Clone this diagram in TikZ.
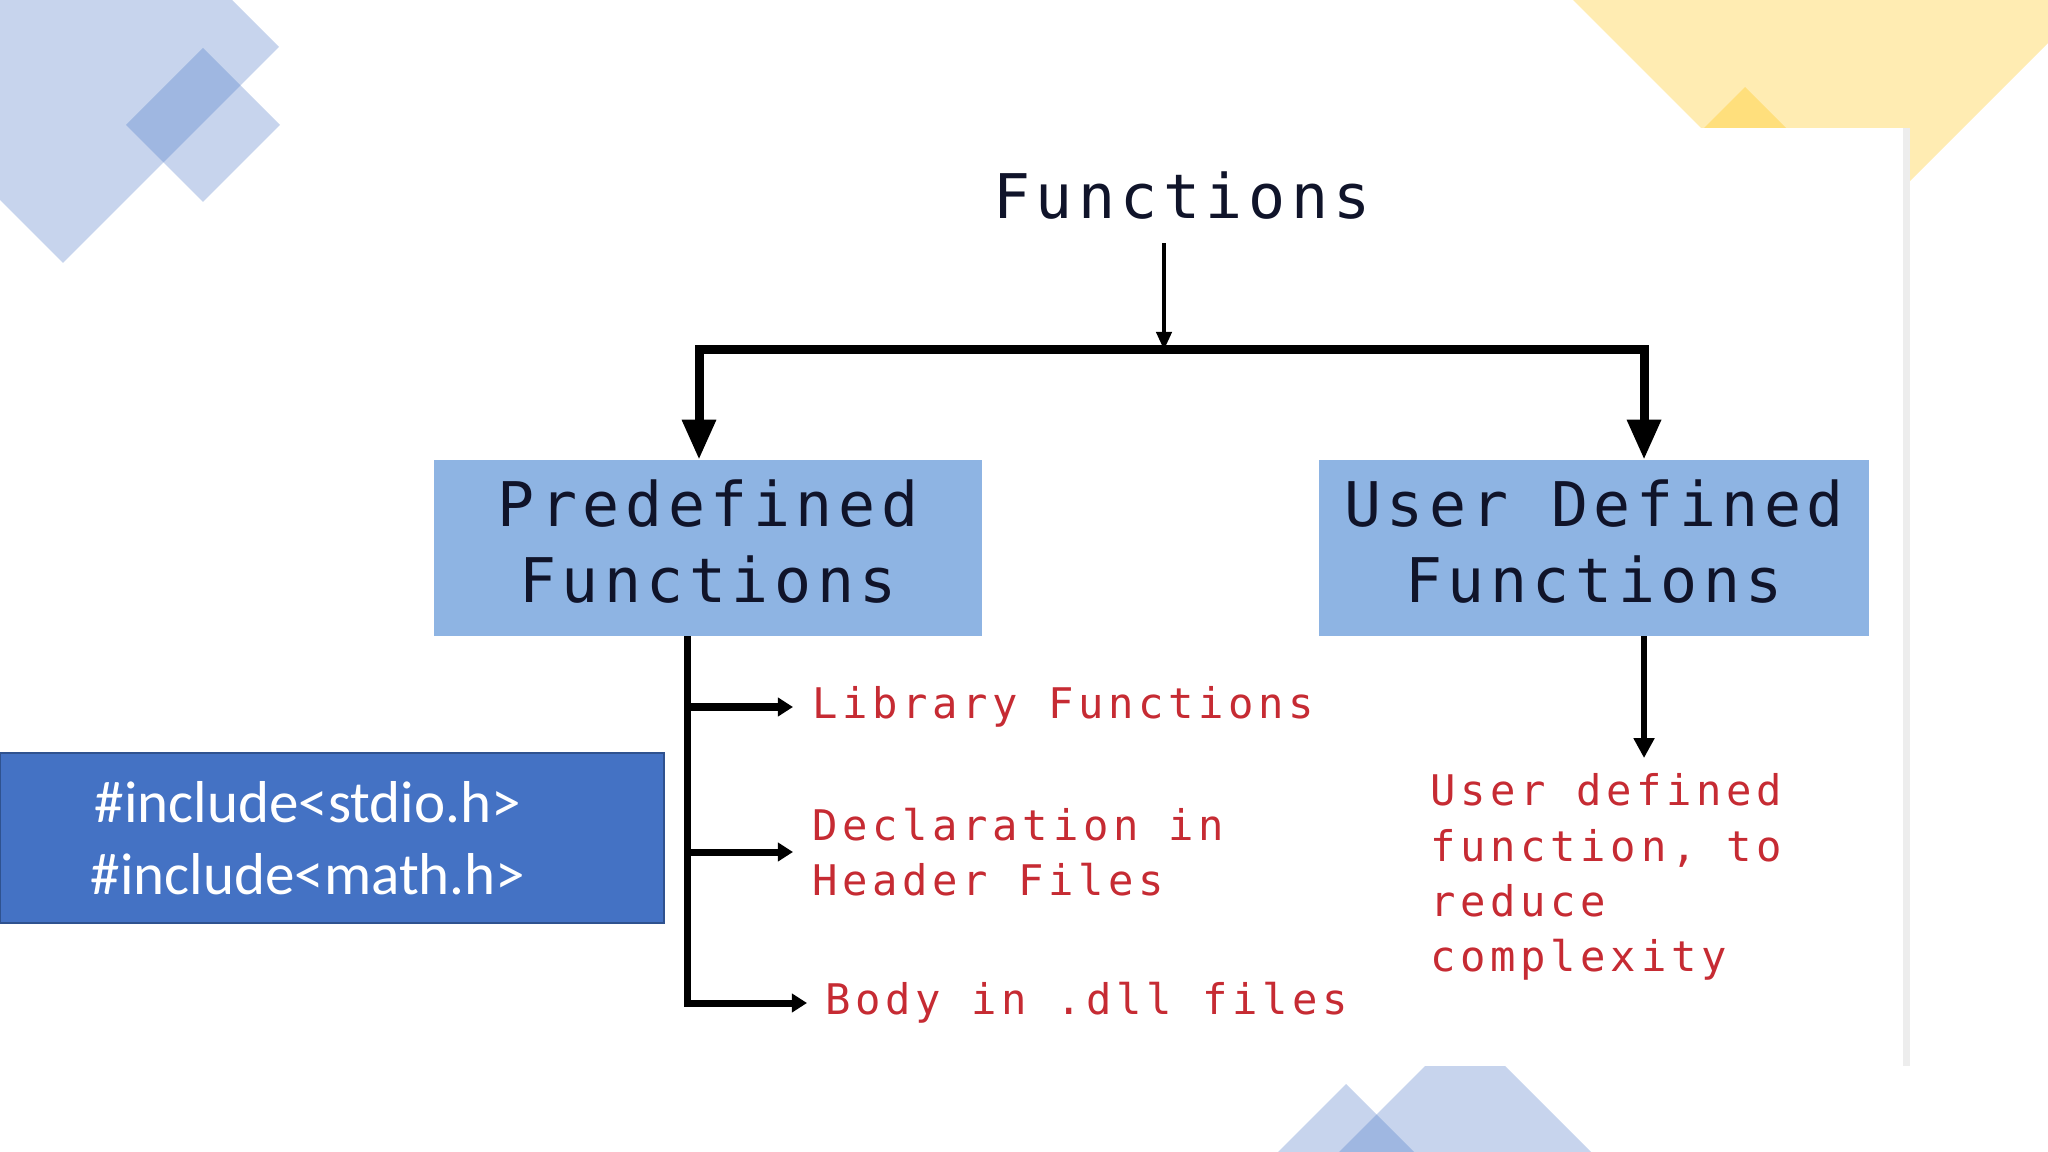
\documentclass[tikz,border=0pt]{standalone}
\usepackage{fontspec}
\usetikzlibrary{arrows.meta}
\newfontfamily\monofont[LetterSpace=9]{DejaVu Sans Mono}
\newfontfamily\notefont[LetterSpace=11]{DejaVu Sans Mono}
\newfontfamily\slidefont{Carlito}
\definecolor{slideblue}{HTML}{4472C4}
\definecolor{slideborder}{HTML}{2F528F}
\definecolor{slideyellow}{HTML}{FFC000}
\definecolor{boxblue}{HTML}{8EB4E3}
\definecolor{boxtext}{HTML}{10142A}
\definecolor{notered}{HTML}{C62B33}
\tikzset{
  catbox/.style={fill=boxblue, minimum height=1.75cm, align=center, inner sep=0pt,
    text depth=0.13cm, text=boxtext, font=\monofont\fontsize{17.5}{21.6}\selectfont},
  note/.style={anchor=west, align=left, inner sep=0pt, text=notered,
    font=\notefont\fontsize{12}{15.7}\selectfont},
  drop/.style={line width=0.09cm, -{Triangle[width=0.32cm,length=0.4cm]}},
  branch/.style={line width=0.07cm, -{Triangle[width=0.18cm,length=0.15cm]}},
}
\begin{document}
\begin{tikzpicture}[x=0.01cm,y=-0.01cm]
                {
    \useasboundingbox (0,0) rectangle (2048,1152);
    \def\bigdiamond{(-153,47) -- (63,-169) -- (279,47) -- (63,263) -- cycle}
    \def\smalldiamond{(126,125) -- (203,48) -- (280,125) -- (203,202) -- cycle}

    \begin{scope}
        \clip (0,0) rectangle (2048,1152);
        \fill[slideblue,opacity=0.3] \bigdiamond;
        \fill[slideblue,opacity=0.3] \smalldiamond;
        \fill[slideyellow,opacity=0.3] (1573,0) -- (1832,-259) -- (2091,0) -- (1832,259) -- cycle;
        \fill[slideyellow,opacity=0.3] (1645,187) -- (1745,87) -- (1845,187) -- (1745,287) -- cycle;
        \fill[slideblue,opacity=0.3] (1265,1226) -- (1465,1026) -- (1665,1226) -- (1465,1426) -- cycle;
        \fill[slideblue,opacity=0.3] (1226,1204) -- (1346,1084) -- (1466,1204) -- (1346,1324) -- cycle;
    \end{scope}

    \fill[white] (430,128) rectangle (1903,1066);
    \fill[black!7] (1903,128) rectangle (1910,1066);

    \node[text=boxtext, font=\monofont\fontsize{17.5}{20}\selectfont] (title) at (1182,196) {Functions};
    \node[catbox, minimum width=5.48cm] (predef) at (708,548) {Predefined\\Functions};
    \node[catbox, minimum width=5.5cm] (userdef) at (1594,548) {User Defined\\Functions};

    \node[note] (lib) at (812,707) {Library Functions};
    \node[note] (decl) at (812,852) {Declaration in\\Header Files};
    \node[note] (body) at (825,1003) {Body in .dll files};
    \node[note] (userdesc) at (1430,877) {User defined\\function, to\\reduce\\complexity};

    \node[fill=slideblue, draw=slideborder, line width=0.02cm, minimum width=6.64cm,
        minimum height=1.69cm, inner sep=0pt] (include) at (332,838) {};
    \node[text=white, align=center, font=\slidefont\fontsize{16.8}{20.5}\selectfont]
        (includes) at ([xshift=-0.24cm]include.center) {\#include<stdio.h>\\\#include<math.h>};

    \coordinate (split) at (1164,350);
    \coordinate (drop1) at ([xshift=-0.09cm]predef.north);
    \coordinate (drop2) at ([xshift=0.5cm]userdef.north);
    \coordinate (trunk) at ([xshift=-0.2cm]predef.south);

    \draw[line width=0.04cm, -{Triangle[width=0.15cm,length=0.18cm]}, shorten <=0.11cm]
        (split |- title.south) -- (split);
    \draw[drop] (split) -| (drop1);
    \draw[drop] (split) -| (drop2);

    \draw[branch] (trunk) |- ([xshift=-0.18cm]body.west);
    \draw[branch] (trunk |- lib.west) -- ([xshift=-0.19cm]lib.west);
    \draw[branch] (trunk |- decl.west) -- ([xshift=-0.19cm]decl.west);
    \draw[line width=0.06cm, -{Triangle[width=0.2cm,length=0.2cm]}, shorten >=0.15cm]
        (drop2 |- userdef.south) -- (drop2 |- userdesc.north);
}
\end{tikzpicture}
\end{document}
